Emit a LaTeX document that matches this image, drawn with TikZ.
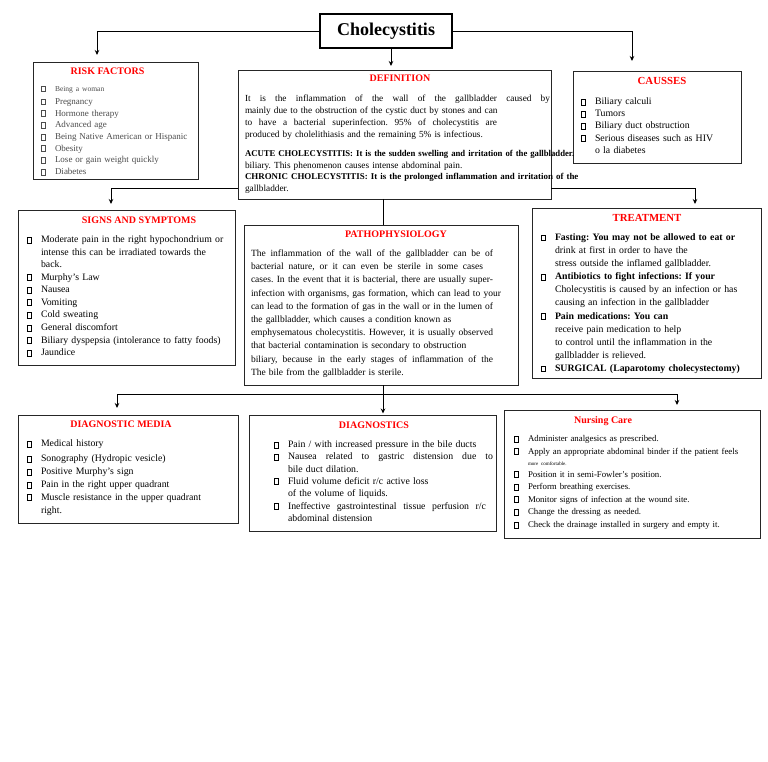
\documentclass[tikz,border=0pt]{standalone}
\usepackage{fontspec}
\usepackage{graphicx}
\setmainfont{Liberation Serif}
\usetikzlibrary{arrows.meta}
\frenchspacing

\newcommand{\sqb}{\makebox[14pt][l]{\fboxsep=0pt\fboxrule=0.45pt\fbox{\rule{0pt}{5.5pt}\hspace{4pt}}}}
\newcommand{\contind}{\hspace*{14pt}}
\newcommand{\jline}[2]{{\spaceskip=0pt\xspaceskip=0pt\makebox[#1][s]{#2}}}

\tikzset{
  box/.style={draw=black!85, line width=0.9pt, anchor=north west, inner sep=0pt, outer sep=0pt},
  head/.style={text=red, font=\bfseries\fontsize{10}{12}\selectfont, inner sep=0pt},
  body/.style={anchor=north west, inner sep=0pt, outer sep=0pt, align=left, text width=#1, text=black},
  arr/.style={-{Stealth[length=5pt,width=4.5pt]}, line width=0.9pt},
  link/.style={line width=0.9pt}
}

\begin{document}
\begin{tikzpicture}[x=1pt,y=-1pt]

  \useasboundingbox (0,0) rectangle (768,762);
  \fill[white] (0,0) rectangle (768,762);

  % title
  \node[draw, line width=1.6pt, minimum width=132pt, minimum height=34pt, inner sep=0pt,
        font=\bfseries\fontsize{18}{20}\selectfont] (title) at (386,31) {Cholecystitis};

  % boxes
  \node[box, minimum width=165pt, minimum height=117pt] (risk)   at (33,62)   {};
  \node[box, minimum width=313pt, minimum height=129pt] (def)    at (238,70)  {};
  \node[box, minimum width=168pt, minimum height=92pt]  (cause)  at (573,71)  {};
  \node[box, minimum width=217pt, minimum height=155pt] (signs)  at (18,210)  {};
  \node[box, minimum width=274pt, minimum height=160pt] (patho)  at (244,225) {};
  \node[box, minimum width=229pt, minimum height=170pt] (treat)  at (532,208) {};
  \node[box, minimum width=220pt, minimum height=108pt] (media)  at (18,415)  {};
  \node[box, minimum width=247pt, minimum height=116pt] (diag)   at (249,415) {};
  \node[box, minimum width=256pt, minimum height=128pt] (nurse)  at (504,410) {};

  % risk factors
  \node[head] (riskhd) at (107.5,71) {RISK FACTORS};
  \node[body=160pt, text=black!70, font=\fontsize{9}{11.7}\selectfont] (risktx) at (41,83.3)
    {\strut\sqb{\fontsize{7.5}{9}\selectfont Being a woman}\\[1.3pt]
     \sqb Pregnancy\\
     \sqb Hormone therapy\\
     \sqb Advanced age\\
     \sqb Being Native American or Hispanic\\
     \sqb Obesity\\
     \sqb Lose or gain weight quickly\\
     \sqb Diabetes};

  % definition
  \node[head] (defhd) at (400,78.5) {DEFINITION};
  \node[body=380pt, font=\fontsize{9.3}{12}\selectfont] (deftx) at (245,93.1)
    {\strut\jline{305pt}{It is the inflammation of the wall of the gallbladder caused by}\\
     mainly due to the obstruction of the cystic duct by stones and can\\
     \jline{252pt}{to have a bacterial superinfection. 95\% of cholecystitis are}\\
     produced by cholelithiasis and the remaining 5\% is infectious.\\[7pt]
     \scalebox{0.975}[1]{\bfseries\fontsize{8.9}{12}\selectfont ACUTE CHOLECYSTITIS: It is the sudden swelling and irritation of the gallbladder.}\\
     biliary. This phenomenon causes intense abdominal pain.\\[-1pt]
     {\bfseries\fontsize{8.9}{12}\selectfont CHRONIC CHOLECYSTITIS: It is the prolonged inflammation and irritation of the}\\
     gallbladder.};

  % causes
  \node[head, font=\bfseries\fontsize{10.8}{13}\selectfont] (causehd) at (662,81) {CAUSSES};
  \node[body=160pt, font=\fontsize{9.8}{12.2}\selectfont] (causetx) at (581,96)
    {\strut\sqb Biliary calculi\\
     \sqb Tumors\\
     \sqb Biliary duct obstruction\\
     \sqb Serious diseases such as HIV\\
     \contind o la diabetes};

  % signs and symptoms
  \node[head] (signshd) at (139,220) {SIGNS AND SYMPTOMS};
  \node[body=205pt, font=\fontsize{9.8}{12.55}\selectfont] (signstx) at (27,233.9)
    {\strut\sqb Moderate pain in the right hypochondrium or\\
     \contind intense this can be irradiated towards the\\
     \contind back.\\
     \sqb Murphy's Law\\
     \sqb Nausea\\
     \sqb Vomiting\\
     \sqb Cold sweating\\
     \sqb General discomfort\\
     \sqb Biliary dyspepsia (intolerance to fatty foods)\\
     \sqb Jaundice};

  % pathophysiology
  \node[head] (pathohd) at (396,234) {PATHOPHYSIOLOGY};
  \node[body=262pt, font=\fontsize{9.5}{13.2}\selectfont] (pathotx) at (251,247.3)
    {\strut\jline{242pt}{The inflammation of the wall of the gallbladder can be of}\\
     \jline{232pt}{bacterial nature, or it can even be sterile in some cases}\\
     \jline{242pt}{cases. In the event that it is bacterial, there are usually super-}\\
     infection with organisms, gas formation, which can lead to your\\
     \jline{242pt}{can lead to the formation of gas in the wall or in the lumen of}\\
     the gallbladder, which causes a condition known as\\
     \jline{242pt}{emphysematous cholecystitis. However, it is usually observed}\\
     that bacterial contamination is secondary to obstruction\\
     \jline{242pt}{biliary, because in the early stages of inflammation of the}\\
     The bile from the gallbladder is sterile.};

  % treatment
  \node[head, font=\bfseries\fontsize{10.8}{13}\selectfont] (treathd) at (647,218) {TREATMENT};
  \node[body=215pt, font=\fontsize{9.8}{13.1}\selectfont] (treattx) at (541,231.3)
    {\strut\sqb\textbf{Fasting: You may not be allowed to eat or}\\
     \contind drink at first in order to have the\\
     \contind stress outside the inflamed gallbladder.\\
     \sqb\textbf{Antibiotics to fight infections: If your}\\
     \contind Cholecystitis is caused by an infection or has\\
     \contind causing an infection in the gallbladder\\
     \sqb\textbf{Pain medications: You can}\\
     \contind receive pain medication to help\\
     \contind to control until the inflammation in the\\
     \contind gallbladder is relieved.\\
     \sqb\textbf{SURGICAL (Laparotomy cholecystectomy)}};

  % diagnostic media
  \node[head] (mediahd) at (121,424) {DIAGNOSTIC MEDIA};
  \node[body=205pt, font=\fontsize{9.8}{12.9}\selectfont] (mediatx) at (27,437.8)
    {\strut\sqb Medical history\\[2pt]
     \sqb Sonography (Hydropic vesicle)\\
     \sqb Positive Murphy's sign\\
     \sqb Pain in the right upper quadrant\\
     \sqb Muscle resistance in the upper quadrant\\
     \contind right.};

  % diagnostics
  \node[head] (diaghd) at (374,425) {DIAGNOSTICS};
  \node[body=225pt, font=\fontsize{9.8}{12.3}\selectfont] (diagtx) at (274,438.9)
    {\strut\sqb Pain / with increased pressure in the bile ducts\\
     \sqb\jline{205pt}{Nausea related to gastric distension due to}\\
     \contind bile duct dilation.\\
     \sqb Fluid volume deficit r/c active loss\\
     \contind of the volume of liquids.\\
     \sqb\jline{198pt}{Ineffective gastrointestinal tissue perfusion r/c}\\
     \contind abdominal distension};

  % nursing care
  \node[head] (nursehd) at (603,421) {Nursing Care};
  \node[body=240pt, font=\fontsize{8.8}{12.6}\selectfont] (nursetx) at (514,432.7)
    {\strut\sqb Administer analgesics as prescribed.\\
     \sqb Apply an appropriate abdominal binder if the patient feels\\[-1.6pt]
     \contind{\fontsize{5}{6}\selectfont more comfortable.}\\[-0.6pt]
     \sqb Position it in semi-Fowler's position.\\
     \sqb Perform breathing exercises.\\
     \sqb Monitor signs of infection at the wound site.\\
     \sqb Change the dressing as needed.\\
     \sqb Check the drainage installed in surgery and empty it.};

  % connectors
  \coordinate (riskarr)  at (97,55);
  \coordinate (causearr) at (632,61);
  \coordinate (defarr)   at (391,66);
  \coordinate (signsarr) at (111,204);
  \coordinate (treatarr) at (695,204);
  \coordinate (fork)     at (383,394);
  \coordinate (mediaarr) at (117,408);
  \coordinate (nursearr) at (677,405);

  \draw[arr] (title.west) -| (riskarr);
  \draw[arr] (title.east) -| (causearr);
  \draw[arr] (title.south -| defarr) -- (defarr);
  \draw[arr] ([yshift=11pt]def.south west) -| (signsarr);
  \draw[arr] ([yshift=11pt]def.south east) -| (treatarr);
  \draw[link] ([xshift=2pt]patho.north |- def.south) -- ([xshift=2pt]patho.north);
  \draw[arr, shorten >=1.5pt] ([xshift=2pt]patho.south) -- ([xshift=2pt]patho.south |- diag.north);
  \draw[arr] (fork) -| (mediaarr);
  \draw[arr] (fork) -| (nursearr);

\end{tikzpicture}
\end{document}
